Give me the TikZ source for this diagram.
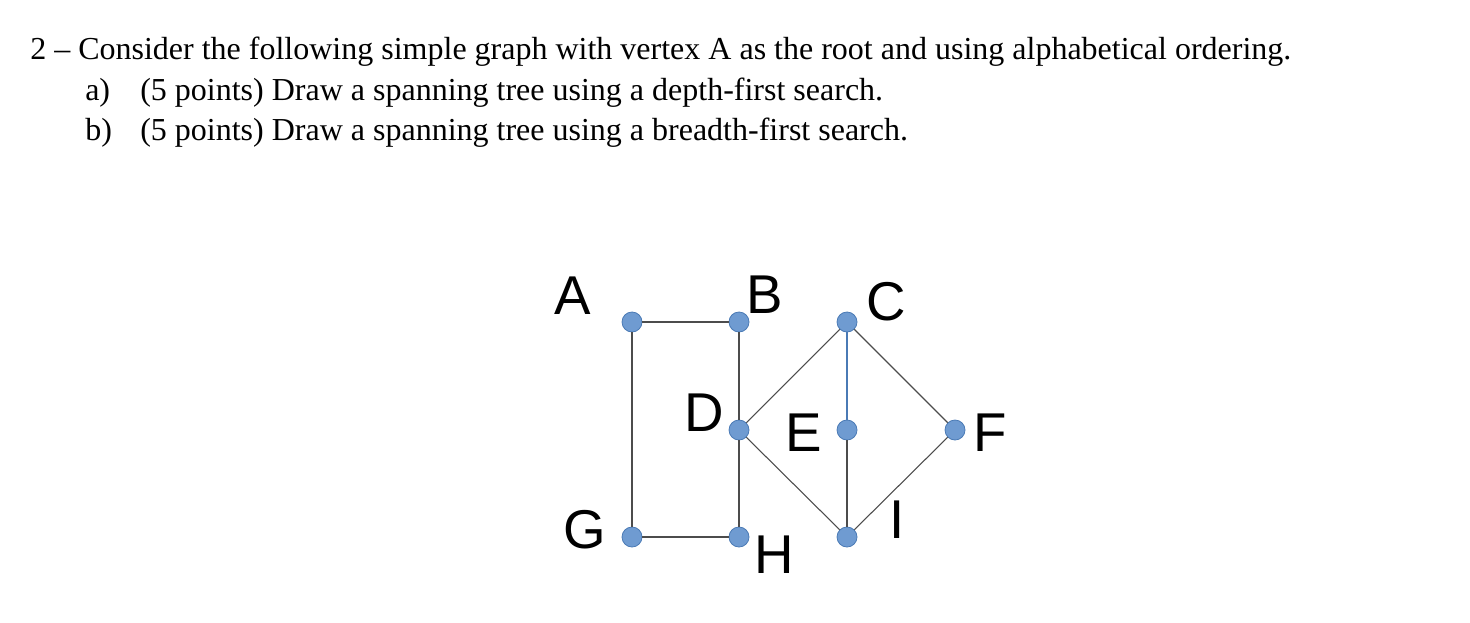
\documentclass[tikz,border=0pt]{standalone}
\usepackage{fontspec}
\setmainfont{Liberation Serif}
\newfontfamily\lsans{Liberation Sans}
\definecolor{vfill}{HTML}{6F9BD1}
\definecolor{vdraw}{HTML}{4A7AB5}
\begin{document}
\begin{tikzpicture}[x=0.75pt,y=-0.75pt,
  v/.style={circle,fill=vfill,draw=vdraw,line width=0.6pt,minimum size=15pt,inner sep=0pt},
  lab/.style={font=\lsans\fontsize{41}{41}\selectfont,inner sep=0pt},
  txt/.style={font=\fontsize{24}{28}\selectfont,anchor=west,inner sep=0pt},
  e/.style={draw=black!70,line width=0.8pt}]
\useasboundingbox (0,0) rectangle (1470,622);
\node[txt] (t1) at (30,52) {2 -- Consider the following simple graph with vertex A as the root and using alphabetical ordering.};
\node[txt] (t2a) at (85,93) {a)};
\node[txt] (t2) at (140,93) {(5 points) Draw a spanning tree using a depth-first search.};
\node[txt] (t3a) at (85,133) {b)};
\node[txt] (t3) at (140,133) {(5 points) Draw a spanning tree using a breadth-first search.};
\node[v] (A) at (632,322) {};
\node[v] (B) at (739,322) {};
\node[v] (C) at (847,322) {};
\node[v] (D) at (739,430) {};
\node[v] (E) at (847,430) {};
\node[v] (F) at (955,430) {};
\node[v] (G) at (632,537) {};
\node[v] (H) at (739,537) {};
\node[v] (I) at (847,537) {};
\begin{scope}[on background layer/.try]
\end{scope}
\draw[e] (A) -- (B);
\draw[e] (A) -- (G);
\draw[e] (G) -- (H);
\draw[e] (B) -- (D);
\draw[e] (D) -- (H);
\draw[e] (D) -- (C);
\draw[e] (D) -- (I);
\draw[draw=vdraw,line width=0.8pt] (C) -- (E);
\draw[e] (E) -- (I);
\draw[e] (C) -- (F);
\draw[e] (F) -- (I);
\node[lab] (lA) at (573,296) {A};
\node[lab] (lB) at (765,295) {B};
\node[lab] (lC) at (886,302) {C};
\node[lab] (lD) at (704,413) {D};
\node[lab] (lE) at (804,433) {E};
\node[lab] (lF) at (990,433) {F};
\node[lab] (lG) at (585,530) {G};
\node[lab] (lH) at (774,555) {H};
\node[lab] (lI) at (897,520) {I};
\end{tikzpicture}
\end{document}
